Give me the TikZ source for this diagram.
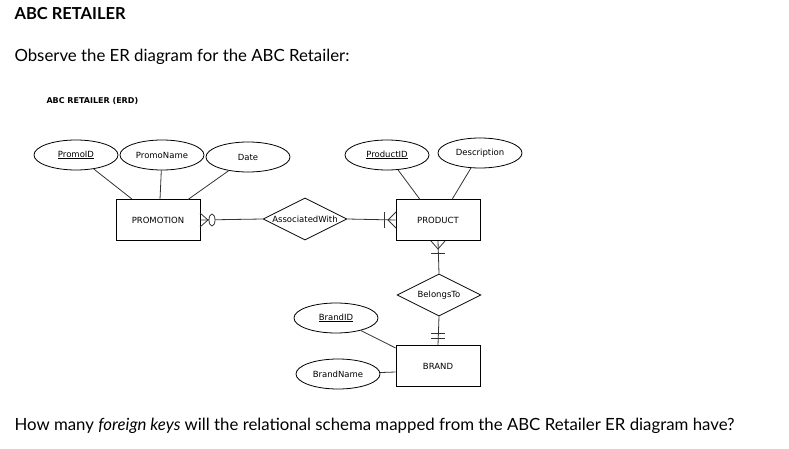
\documentclass[tikz,border=0pt]{standalone}
\usepackage{fontspec}
\setmainfont{Lato}
\newfontfamily\dv{DejaVu Sans}
\usetikzlibrary{shapes.geometric}
\begin{document}
\begin{tikzpicture}[x=1pt,y=-1pt,
  ent/.style={draw,thick,minimum width=84pt,minimum height=41pt,font=\dv\fontsize{8.5}{10}\selectfont,inner sep=0pt},
  att/.style={draw,thick,ellipse,minimum width=84pt,minimum height=30pt,font=\dv\fontsize{8.5}{10}\selectfont,inner sep=0pt},
  rel/.style={draw,thick,diamond,aspect=2,minimum width=84pt,minimum height=42pt,font=\dv\fontsize{8.5}{10}\selectfont,inner sep=0pt},
  ln/.style={thick,draw=black!80}]
\useasboundingbox (0,0) rectangle (789,449);
\node[anchor=west,font=\bfseries\fontsize{16.5}{19}\selectfont] (t) at (11,14) {ABC RETAILER};
\node[anchor=west,font=\fontsize{16.8}{19}\selectfont] (o) at (11,57) {Observe the ER diagram for the ABC Retailer:};
\node[anchor=west,font=\dv\bfseries\fontsize{8}{9}\selectfont] (e) at (43,101) {ABC RETAILER (ERD)};
\node[anchor=west,font=\fontsize{16.8}{19}\selectfont] (q) at (11,426) {How many \emph{foreign keys} will the relational schema mapped from the ABC Retailer ER diagram have?};

\node[att] (pid) at (76,155) {\underline{PromoID}};
\node[att] (pn) at (162,155) {PromoName};
\node[att] (dt) at (248,157) {Date};
\node[att] (prid) at (387,155) {\underline{ProductID}};
\node[att] (desc) at (480,153) {Description};
\node[att] (bid) at (336,318) {\underline{BrandID}};
\node[att] (bn) at (338,374) {BrandName};
\node[ent] (promo) at (158,220) {PROMOTION};
\node[ent] (prod) at (438,220) {PRODUCT};
\node[ent] (brand) at (438,366) {BRAND};
\node[rel] (aw) at (305,219) {AssociatedWith};
\node[rel] (bt) at (439,295) {BelongsTo};

\draw[ln] (pid) -- (promo.north west -| 132,0) ;
\draw[ln] (pn) -- (160,199.5);
\draw[ln] (dt) -- (188,199.5);
\draw[ln] (prid) -- (420,199.5);
\draw[ln] (desc) -- (452,199.5);
\draw[ln] (bid) -- (brand.west |- 0,348);
\draw[ln] (bn) -- (brand.west |- 0,372);
% associations
\draw[ln] (promo.east) -- (aw.west);
\draw[ln] (aw.east) -- (prod.west);
\draw[ln] (prod.south) -- (bt.north);
\draw[ln] (bt.south) -- (brand.north);
% crow's feet
\draw[ln] (200,213) -- (208,220) -- (200,227);
\draw[ln,fill=white] (212,220) ellipse (3pt and 6pt);
\draw[ln] (396,212) -- (388,220) -- (396,228);
\draw[ln] (384,212) -- (384,228);
\draw[ln] (431,241) -- (438,249) -- (445,241);
\draw[ln] (431,253) -- (445,253);
\draw[ln] (431,333) -- (445,333);
\draw[ln] (431,338) -- (445,338);
\end{tikzpicture}
\end{document}
